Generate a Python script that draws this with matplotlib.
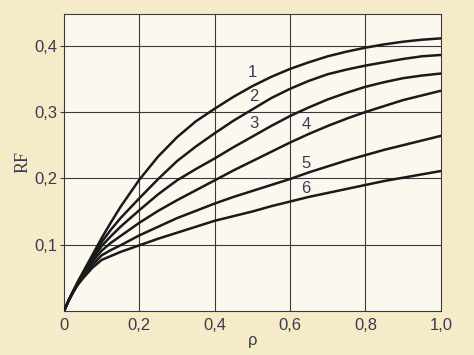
import matplotlib
matplotlib.use("Agg")
import matplotlib.pyplot as plt

# values
rho = [0, 0.0125, 0.025, 0.0375, 0.05, 0.075, 0.1, 0.125, 0.15, 0.2, 0.25, 0.3, 0.35,
       0.4, 0.45, 0.5, 0.55, 0.6, 0.65, 0.7, 0.75, 0.8, 0.85, 0.9, 0.95, 1.0]
rf_1 = [0, 0.016, 0.031, 0.045, 0.058, 0.084, 0.110, 0.134, 0.157, 0.198, 0.233, 0.262, 0.286,
        0.305, 0.323, 0.339, 0.353, 0.365, 0.375, 0.384, 0.391, 0.397, 0.402, 0.406, 0.409, 0.411]
rf_2 = [0, 0.016, 0.030, 0.044, 0.057, 0.081, 0.104, 0.123, 0.140, 0.170, 0.199, 0.226, 0.248,
        0.268, 0.287, 0.304, 0.321, 0.335, 0.347, 0.357, 0.364, 0.370, 0.375, 0.380, 0.384, 0.386]
rf_3 = [0, 0.016, 0.030, 0.043, 0.055, 0.078, 0.098, 0.113, 0.127, 0.152, 0.176, 0.197, 0.214,
        0.230, 0.247, 0.263, 0.279, 0.294, 0.307, 0.319, 0.329, 0.338, 0.345, 0.351, 0.355, 0.358]
rf_4 = [0, 0.016, 0.030, 0.042, 0.053, 0.074, 0.091, 0.103, 0.113, 0.133, 0.151, 0.167, 0.182,
        0.197, 0.212, 0.226, 0.240, 0.254, 0.267, 0.279, 0.290, 0.300, 0.309, 0.318, 0.325, 0.332]
rf_5 = [0, 0.016, 0.029, 0.041, 0.051, 0.069, 0.084, 0.092, 0.099, 0.114, 0.127, 0.140, 0.151,
        0.162, 0.172, 0.181, 0.190, 0.199, 0.209, 0.218, 0.227, 0.235, 0.243, 0.250, 0.257, 0.264]
rf_6 = [0, 0.016, 0.029, 0.040, 0.049, 0.065, 0.077, 0.083, 0.089, 0.099, 0.109, 0.118, 0.127,
        0.136, 0.143, 0.150, 0.158, 0.165, 0.172, 0.178, 0.184, 0.190, 0.196, 0.201, 0.206, 0.211]
curves = [rf_1, rf_2, rf_3, rf_4, rf_5, rf_6]

curve_names = ["1", "2", "3", "4", "5", "6"]
name_pos = [(0.501, 0.360), (0.504, 0.324), (0.504, 0.282),
            (0.642, 0.281), (0.642, 0.223), (0.642, 0.185)]

x_ticks = [0, 0.2, 0.4, 0.6, 0.8, 1.0]
x_tick_labels = ["0", "0,2", "0,4", "0,6", "0,8", "1,0"]
y_ticks = [0.1, 0.2, 0.3, 0.4]
y_tick_labels = ["0,1", "0,2", "0,3", "0,4"]

text_color = "#3a3c4e"
grid_color = "#3a3a3a"

fig = plt.figure(figsize=(4.74, 3.55), dpi=100, facecolor="#f6ebc9")
ax = fig.add_axes([0.135, 0.124, 0.795, 0.837])
ax.set_facecolor("#fbf9ef")

for y in curves:
    ax.plot(rho, y, color="#1a1a1a", lw=1.8, solid_joinstyle="round",
            solid_capstyle="round", zorder=3)

for name, (tx, ty) in zip(curve_names, name_pos):
    ax.text(tx, ty, name, fontsize=12, color=text_color, ha="center", va="center",
            family="Liberation Sans", zorder=4)

for xv in x_ticks[1:-1]:
    ax.axvline(xv, color=grid_color, lw=0.8, zorder=1)
for yv in y_ticks:
    ax.axhline(yv, color=grid_color, lw=0.8, zorder=1)

ax.set_xlim(0, 1.0)
ax.set_ylim(0, 0.448)

ax.set_xticks(x_ticks)
ax.set_xticklabels(x_tick_labels, family="Liberation Sans", fontsize=12, color=text_color)
ax.set_yticks(y_ticks)
ax.set_yticklabels(y_tick_labels, family="Liberation Sans", fontsize=12, color=text_color)
ax.tick_params(axis="x", length=0, pad=5)
ax.tick_params(axis="y", length=3, width=0.8, color=grid_color, pad=2)

for s in ax.spines.values():
    s.set_color(grid_color)
    s.set_linewidth(0.8)

ax.set_xlabel("ρ", family="Liberation Sans", fontsize=12, color=text_color, labelpad=0)
ax.set_ylabel("RF", family="Liberation Serif", fontsize=13, color=text_color, labelpad=2)

fig.savefig("out.png", dpi=100, facecolor=fig.get_facecolor())
